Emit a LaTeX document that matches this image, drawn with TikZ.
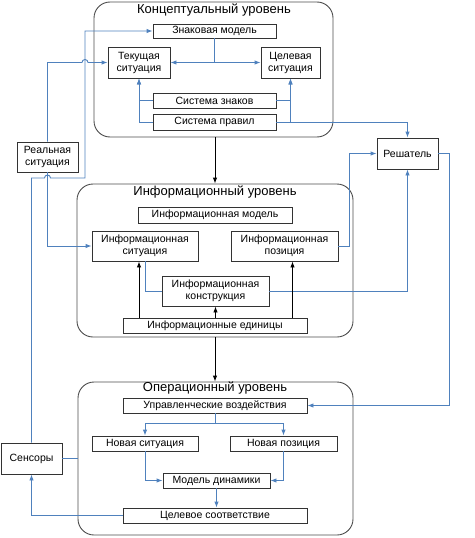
\documentclass[tikz,border=0pt]{standalone}
\usepackage{fontspec}
\setmainfont{Liberation Sans}
\usepackage{tikz}
\usetikzlibrary{arrows.meta,calc}
\definecolor{lineblue}{RGB}{79,129,189}

\begin{document}
\begin{tikzpicture}[x=1pt, y=-1pt, >={Latex[length=6pt,width=4.5pt]},
  box/.style={draw=black!80, line width=0.9pt, fill=white, inner sep=1pt, align=center, font=\fontsize{10.5}{12}\selectfont},
  level/.style={draw=black!70, line width=0.9pt, rounded corners=16pt},
  title/.style={font=\fontsize{13}{14}\selectfont},
  link/.style={draw=lineblue, line width=0.9pt},
  flow/.style={draw=black, line width=0.9pt, ->}]
\useasboundingbox (0,0) rectangle (474,538);
%%%%% Levels %%%%%
\node[level, minimum width=239pt, minimum height=135pt] (konc) at (213.5,69.5) {};
\node[level, minimum width=276pt, minimum height=153pt] (info) at (215,260.5) {};
\node[level, minimum width=275pt, minimum height=153pt] (oper) at (215.5,458.5) {};
\node[title] (konctitle) at (214,10) {Концептуальный уровень};
\node[title] (infotitle) at (215,192) {Информационный уровень};
\node[title] (opertitle) at (215,388) {Операционный уровень};
%%%%% Conceptual level %%%%%
\node[box, minimum width=123pt, minimum height=14pt] (znmod) at (214.5,31) {Знаковая модель};
\node[box, minimum width=62pt, minimum height=31pt] (tekush) at (139,62.5) {Текущая\\ситуация};
\node[box, minimum width=59pt, minimum height=31pt] (celsit) at (290.5,62.5) {Целевая\\ситуация};
\node[box, minimum width=123pt, minimum height=15pt] (sisznak) at (214.5,100.5) {Система знаков};
\node[box, minimum width=123pt, minimum height=16pt] (sisprav) at (214.5,122) {Система правил};
%%%%% Outside %%%%%
\node[box, minimum width=61pt, minimum height=30pt] (realsit) at (47.5,157) {Реальная\\ситуация};
\node[box, minimum width=61pt, minimum height=31pt] (reshat) at (407.5,153.5) {Решатель};
\node[box, minimum width=61pt, minimum height=31pt] (sensory) at (31.5,458.5) {Сенсоры};
%%%%% Information level %%%%%
\node[box, minimum width=154pt, minimum height=16pt] (infmod) at (215,215) {Информационная модель};
\node[box, minimum width=106pt, minimum height=30pt] (infsit) at (145,246) {Информационная\\ситуация};
\node[box, minimum width=107pt, minimum height=30pt] (infpoz) at (284.5,246) {Информационная\\позиция};
\node[box, minimum width=107pt, minimum height=30pt] (infkonstr) at (215.5,291) {Информационная\\конструкция};
\node[box, minimum width=184pt, minimum height=15pt] (infed) at (215,325.5) {Информационные единицы};
%%%%% Operational level %%%%%
\node[box, minimum width=184pt, minimum height=15pt] (upr) at (215,405.5) {Управленческие воздействия};
\node[box, minimum width=106pt, minimum height=15pt] (novsit) at (145,443.5) {Новая ситуация};
\node[box, minimum width=107pt, minimum height=15pt] (novpoz) at (283.5,443.5) {Новая позиция};
\node[box, minimum width=107pt, minimum height=15pt] (moddin) at (216.5,480.5) {Модель динамики};
\node[box, minimum width=184pt, minimum height=15pt] (celsoot) at (215,515.5) {Целевое соответствие};
\coordinate (sensup) at (85,178);
%%%%% Links %%%%%
\draw[flow] (konc.south -| info.north) -- (info.north);
\draw[flow] (info.south) -- (info.south |- oper.north);
\draw[link,->] (znmod.south) |- (tekush.east);
\draw[link,->] (znmod.south) |- (celsit.west);
\draw[link,->] (sisznak.west) -| (tekush.south);
\draw[link,->] (sisprav.west) -| (tekush.south);
\draw[link,->] (sisznak.east) -| (celsit.south);
\draw[link,->] (sisprav.east) -| (celsit.south);
\draw[link,->] (sisprav.east) -| (reshat.north);
\draw[link,->] (realsit.north) |- ($(sensup |- tekush.west)+(-3,0)$) arc[start angle=180, end angle=0, radius=3pt] -- (tekush.west);
\draw[link,->] (sensory.north) |- ($(realsit.south |- sensup)+(-3,0)$) arc[start angle=180, end angle=0, radius=3pt] -- (sensup) |- (znmod.west);
\draw[link,->] (realsit.south) |- (infsit.west);
\draw[link] (infsit.south) |- (infkonstr.west);
\draw[link,->] (infkonstr.east) -| (reshat.south);
\draw[link,->] (infpoz.east) -- ++(11,0) |- (reshat.west);
\draw[link,->] (reshat.east) -- ++(11,0) |- (upr.east);
\draw[flow] ([xshift=-6pt]infsit.south |- infed.north) -- ([xshift=-6pt]infsit.south);
\draw[flow] (infkonstr.south |- infed.north) -- (infkonstr.south);
\draw[flow] ([xshift=8pt]infpoz.south |- infed.north) -- ([xshift=8pt]infpoz.south);
\draw[link,->] (upr.south) -- ++(0,10) -| (novsit.north);
\draw[link,->] (upr.south) -- ++(0,10) -| (novpoz.north);
\draw[link,->] (novsit.south) |- (moddin.west);
\draw[link,->] (novpoz.south) |- (moddin.east);
\draw[link,->] (moddin.south) -- (moddin.south |- celsoot.north);
\draw[link,->] (celsoot.west) -| (sensory.south);
\draw[link] (sensory.east) -- (oper.west |- sensory.east);
\end{tikzpicture}
\end{document}
